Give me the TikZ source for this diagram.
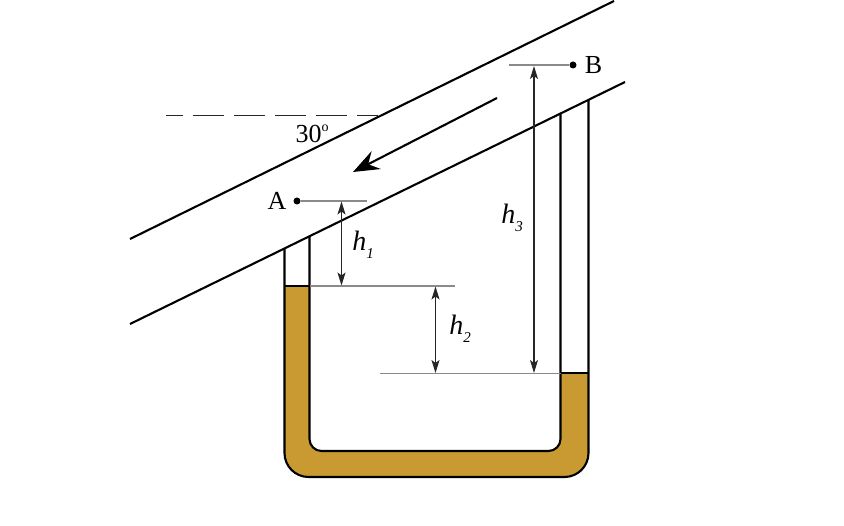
\documentclass[tikz,border=0pt]{standalone}
\usepackage{fontspec}
\setmainfont{Liberation Serif}
\usetikzlibrary{arrows.meta}
\definecolor{liquid}{HTML}{C99A32}
\definecolor{guide}{HTML}{8A8A8A}
\tikzset{
  wall/.style={draw=black,line width=2.1pt},
  guideline/.style={draw=guide,line width=1.1pt},
  dim/.style={draw=black!85,line width=1.2pt,{Stealth[length=13pt,width=8pt,inset=3pt]}-{Stealth[length=13pt,width=8pt,inset=3pt]}},
  flow/.style={draw=black,line width=2.1pt,-{Stealth[length=26pt,width=20pt,inset=9pt]}},
  pt/.style={circle,fill=black,inner sep=0pt,minimum size=7pt},
  lab/.style={font=\fontsize{26}{26}\selectfont,inner sep=0pt},
  hlab/.style={font=\fontsize{28}{28}\selectfont\itshape,inner sep=0pt},
}
\begin{document}
\begin{tikzpicture}[x=1pt,y=-1pt]
\useasboundingbox (0,0) rectangle (844,526);
% liquid
\fill[liquid] (284.5,286) -- (309.5,286) [rounded corners=12pt] -- (309.5,451) -- (560.5,451) [sharp corners] -- (560.5,373) -- (588.5,373) [rounded corners=24pt] -- (588.5,477) -- (284.5,477) [sharp corners] -- cycle;
% pipe
\coordinate (ua) at (130,239); \coordinate (ub) at (614,1);
\coordinate (la) at (130,324); \coordinate (lb) at (625,82);
\draw[wall] (ua) -- (ub);
\draw[wall] (la) -- (lb);
% tube
\draw[wall] (284.5,249) [rounded corners=24pt] -- (284.5,477) -- (588.5,477) [sharp corners] -- (588.5,100);
\draw[wall] (309.5,236.5) [rounded corners=12pt] -- (309.5,451) -- (560.5,451) [sharp corners] -- (560.5,114);
\draw[black,line width=1.2pt] (284.5,286) -- (309.5,286);
\draw[black,line width=1.2pt] (560.5,373) -- (588.5,373);
% reference
\coordinate (d1) at (166,116); \coordinate (d2) at (378,116);
\draw[black!85,line width=1pt,dash pattern=on 31pt off 10pt,dash phase=14pt] (d1) -- (d2);
\node[lab] (ang) at (312,134) {30\raisebox{0.42em}{\fontsize{14}{14}\selectfont o}};
% flow
\coordinate (f1) at (497,98); \coordinate (f2) at (353,172);
\draw[flow] (f1) -- (f2);
% points
\node[pt] (A) at (297,201) {};
\node[pt] (B) at (573,65) {};
\node[lab] (Al) at (277,201) {A};
\node[lab] (Bl) at (593.5,65) {B};
% guide lines
\coordinate (Ae) at (367,201);
\coordinate (Be) at (509,65);
\coordinate (m1) at (309.5,286); \coordinate (m1e) at (455,286);
\coordinate (m2) at (380,373.5); \coordinate (m2e) at (560.5,373.5);
\draw[guideline] (A) -- (Ae);
\draw[guideline] (B) -- (Be);
\draw[guideline] (m1) -- (m1e);
\draw[guideline] (m2) -- (m2e);
% dimensions
\coordinate (h1a) at (341.5,201.5); \coordinate (h1b) at (341.5,285.5);
\coordinate (h2a) at (435.5,286.5); \coordinate (h2b) at (435.5,373);
\coordinate (h3a) at (534,66); \coordinate (h3b) at (534,373);
\draw[dim] (h1a) -- (h1b);
\draw[dim] (h2a) -- (h2b);
\draw[dim] (h3a) -- (h3b);
\node[hlab] (h1) at (363,245) {h\raisebox{-0.28em}{\fontsize{15}{15}\selectfont 1}};
\node[hlab] (h2) at (460,329) {h\raisebox{-0.28em}{\fontsize{15}{15}\selectfont 2}};
\node[hlab] (h3) at (512,218) {h\raisebox{-0.28em}{\fontsize{15}{15}\selectfont 3}};
\end{tikzpicture}
\end{document}
